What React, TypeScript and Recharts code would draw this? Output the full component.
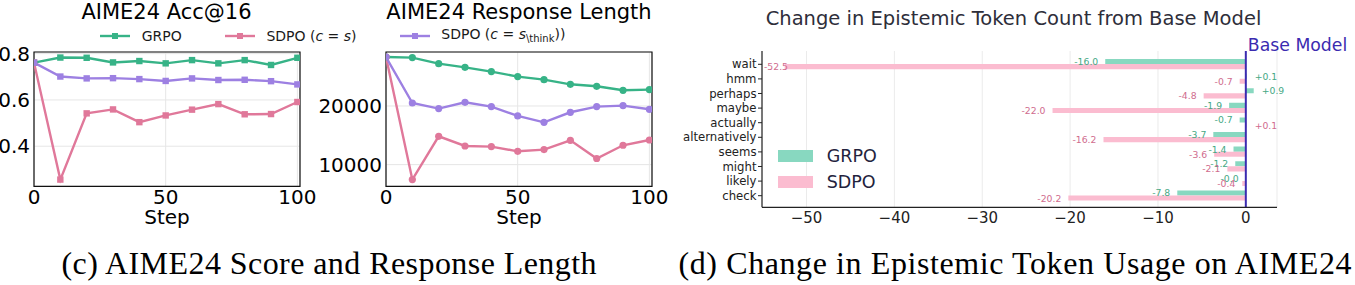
import React from "react";
import {
    LineChart,
    Line,
    XAxis,
    YAxis,
    CartesianGrid,
    BarChart,
    Bar,
    LabelList,
    ReferenceLine,
    ReferenceArea,
} from "recharts";

// ---- data ----
const steps = [0, 10, 20, 30, 40, 50, 60, 70, 80, 90, 100];

const accGrpo = [0.761, 0.783, 0.782, 0.762, 0.768, 0.758, 0.772, 0.758, 0.772, 0.751, 0.782];
const accSdpo = [0.761, 0.256, 0.542, 0.559, 0.504, 0.533, 0.558, 0.582, 0.538, 0.539, 0.591];
const accSdpoThink = [0.761, 0.701, 0.693, 0.694, 0.69, 0.682, 0.693, 0.686, 0.687, 0.681, 0.667];

const lenGrpo = [28360, 28260, 27230, 26600, 25870, 25020, 24500, 23700, 23360, 22680, 22800];
const lenSdpo = [28360, 7440, 14830, 13180, 13070, 12270, 12560, 14150, 11040, 13300, 14200];
const lenSdpoThink = [28360, 20510, 19560, 20630, 19900, 18300, 17220, 18930, 19900, 20070, 19440];

const tokens = ["wait", "hmm", "perhaps", "maybe", "actually", "alternatively", "seems", "might", "likely", "check"];
const tokenGrpo = [-16.0, 0.1, 0.9, -1.9, -0.7, -3.7, -1.4, -1.2, -0.02, -7.8];
const tokenSdpo = [-52.5, -0.7, -4.8, -22.0, 0.1, -16.2, -3.6, -2.1, -0.4, -20.2];

const accTicks = [0.4, 0.6, 0.8];
const lenTicks = [10000, 20000];
const stepTicks = [0, 50, 100];
const tokenTicks = [-50, -40, -30, -20, -10, 0];

// ---- styles ----
const FONT = "'DejaVu Sans', sans-serif";
const SERIF = "'Liberation Serif', serif";
const GREEN = "#37b387";
const PINK = "#e0789a";
const PURPLE = "#9d80e2";
const BAR_GREEN = "#88d8c0";
const BAR_PINK = "#fbbcd0";
const LABEL_GREEN = "#45a884";
const LABEL_PINK = "#d06c8e";
const BASE_BLUE = "#3b2bb0";

const STEP_DOMAIN: [number, number] = [0, 101];
const TOKEN_DOMAIN: [number, number] = [-55.07, 3.55];
const LABEL_FONT = 9.3;

const accData = steps.map((s, i) => ({
    step: s,
    grpo: accGrpo[i],
    sdpo: accSdpo[i],
    think: accSdpoThink[i],
}));
const lenData = steps.map((s, i) => ({
    step: s,
    grpo: lenGrpo[i],
    sdpo: lenSdpo[i],
    think: lenSdpoThink[i],
}));
const tokenData = tokens.map((t, i) => ({
    token: t,
    grpo: tokenGrpo[i],
    sdpo: tokenSdpo[i],
}));

type Rect = { x: number; y: number; w: number; h: number };

const squareDot = (color: string) => (p: any) => (
    <rect key={`sq-${p.index}`} x={p.cx - 3.2} y={p.cy - 3.2} width={6.4} height={6.4} fill={color} />
);
const circleDot = (color: string) => (p: any) => (
    <circle key={`ci-${p.index}`} cx={p.cx} cy={p.cy} r={3.6} fill={color} />
);

type StepPanelProps = {
    data: typeof accData;
    plot: Rect;
    yDomain: [number, number];
    yTicks: number[];
    yWidth: number;
    yFormat: (v: number) => string;
    marker: (color: string) => (p: any) => React.ReactElement;
};

function StepPanel({ data, plot, yDomain, yTicks, yWidth, yFormat, marker }: StepPanelProps) {
    const MT = 20;
    const MR = 30;
    const XH = 50;
    const tick = { fill: "#000", fontSize: 20, fontFamily: FONT };
    const series = [
        { key: "grpo", color: GREEN },
        { key: "sdpo", color: PINK },
        { key: "think", color: PURPLE },
    ];
    return (
        <div style={{ position: "absolute", left: plot.x - yWidth, top: plot.y - MT }}>
            <LineChart
                width={yWidth + plot.w + MR}
                height={MT + plot.h + XH}
                data={data}
                margin={{ top: MT, right: MR, left: 0, bottom: 0 }}
            >
                <CartesianGrid stroke="#e6e6e6" strokeWidth={1} />
                <XAxis
                    dataKey="step"
                    type="number"
                    domain={STEP_DOMAIN}
                    allowDataOverflow
                    ticks={stepTicks}
                    interval={0}
                    height={XH}
                    tickLine={false}
                    axisLine={false}
                    tickSize={3.5}
                    tickMargin={0}
                    tick={tick}
                    label={{
                        value: "Step",
                        position: "insideBottom",
                        offset: 12.5,
                        fill: "#000",
                        fontSize: 20,
                        fontFamily: FONT,
                    }}
                />
                <YAxis
                    type="number"
                    domain={yDomain}
                    allowDataOverflow
                    ticks={yTicks}
                    interval={0}
                    width={yWidth}
                    tickLine={false}
                    axisLine={false}
                    tickSize={4}
                    tickMargin={0}
                    tick={tick}
                    tickFormatter={yFormat}
                />
                <ReferenceArea
                    x1={STEP_DOMAIN[0]}
                    x2={STEP_DOMAIN[1]}
                    y1={yDomain[0]}
                    y2={yDomain[1]}
                    fill="none"
                    stroke="#111"
                    strokeWidth={1.2}
                />
                {series.map((s) => (
                    <Line
                        key={s.key}
                        type="linear"
                        dataKey={s.key}
                        stroke={s.color}
                        strokeWidth={2.4}
                        dot={marker(s.color)}
                        activeDot={false}
                        isAnimationActive={false}
                    />
                ))}
            </LineChart>
        </div>
    );
}

const makeBarLabel = (color: string) => (props: any) => {
    const { x, y, width, height, value } = props;
    const v = Number(value);
    const left = Math.min(x, x + width);
    const right = Math.max(x, x + width);
    const cy = y + height / 2;
    const text = (v >= 0 ? "+" : "") + v.toFixed(1);
    let tx = right + 8;
    let anchor = "start";
    if (v < 0) {
        tx = left - 7;
        anchor = "end";
        if (Math.abs(v) > 1) {
            // keep the label inside the axes when the bar runs to the edge
            const pxPerUnit = Math.abs(width) / Math.abs(v);
            const plotLeft = right + TOKEN_DOMAIN[0] * pxPerUnit;
            const estW = text.length * LABEL_FONT * 0.6;
            if (tx - estW < plotLeft + 2) {
                tx = plotLeft + 2;
                anchor = "start";
            }
        }
    }
    return (
        <text
            x={tx}
            y={cy}
            textAnchor={anchor as any}
            dominantBaseline="central"
            fontSize={LABEL_FONT}
            fontFamily={FONT}
            fill={color}
        >
            {text}
        </text>
    );
};

function TokenPanel() {
    const plot: Rect = { x: 762.3, y: 51, w: 515, h: 156.3 };
    const YW = 100;
    const MT = 30;
    const MR = 100;
    const XH = 40;
    return (
        <div style={{ position: "absolute", left: plot.x - YW, top: plot.y - MT }}>
            <BarChart
                width={YW + plot.w + MR}
                height={MT + plot.h + XH}
                data={tokenData}
                layout="vertical"
                margin={{ top: MT, right: MR, left: 0, bottom: 0 }}
                barGap={0}
                barSize={5.1}
            >
                <CartesianGrid horizontal={false} stroke="#ebebeb" strokeWidth={1} />
                <XAxis
                    type="number"
                    domain={TOKEN_DOMAIN}
                    allowDataOverflow
                    ticks={tokenTicks}
                    interval={0}
                    height={XH}
                    tickLine={false}
                    tickSize={4}
                    tickMargin={1.5}
                    axisLine={{ stroke: "#222", strokeWidth: 1.2 }}
                    tick={{ fill: "#222", fontSize: 15, fontFamily: FONT }}
                    tickFormatter={(v: number) => (v < 0 ? "\u2212" + Math.abs(v) : String(v))}
                />
                <YAxis
                    type="category"
                    dataKey="token"
                    width={YW}
                    interval={0}
                    padding={{ top: 6, bottom: 4.3 }}
                    tickSize={4}
                    tickMargin={1.5}
                    tickLine={{ stroke: "#222", strokeWidth: 1 }}
                    axisLine={{ stroke: "#222", strokeWidth: 1.2 }}
                    tick={{ fill: "#222", fontSize: 11.7, fontFamily: FONT }}
                />
                <Bar dataKey="grpo" fill={BAR_GREEN} isAnimationActive={false}>
                    <LabelList dataKey="grpo" content={makeBarLabel(LABEL_GREEN)} />
                </Bar>
                <Bar dataKey="sdpo" fill={BAR_PINK} isAnimationActive={false}>
                    <LabelList dataKey="sdpo" content={makeBarLabel(LABEL_PINK)} />
                </Bar>
                <ReferenceLine
                    x={0}
                    stroke={BASE_BLUE}
                    strokeWidth={2}
                    label={(p: any) => (
                        <text
                            x={p.viewBox.x + 2}
                            y={p.viewBox.y + 0.5}
                            fontSize={17.3}
                            fontFamily={FONT}
                            fill={BASE_BLUE}
                        >
                            Base Model
                        </text>
                    )}
                />
            </BarChart>
        </div>
    );
}

function LineSample({ color }: { color: string }) {
    return (
        <svg width={30} height={10} style={{ display: "block" }}>
            <line x1={0} y1={5} x2={30} y2={5} stroke={color} strokeWidth={2.4} />
            <rect x={12} y={2} width={6} height={6} fill={color} />
        </svg>
    );
}

function StepLegend() {
    const items = [
        { color: GREEN, label: <>GRPO</> },
        {
            color: PINK,
            label: (
                <>
                    SDPO (<i>c</i> = <i>s</i>)
                </>
            ),
        },
        {
            color: PURPLE,
            label: (
                <>
                    SDPO (<i>c</i> = <i>s</i>
                    <sub style={{ fontSize: 10, verticalAlign: "-3px" }}>\think</sub>))
                </>
            ),
        },
    ];
    return (
        <div
            style={{
                position: "absolute",
                left: 100,
                top: 28,
                height: 16,
                display: "flex",
                alignItems: "center",
                gap: 43,
                fontFamily: FONT,
                fontSize: 14,
                color: "#1a1a1a",
                whiteSpace: "nowrap",
            }}
        >
            {items.map((it, i) => (
                <div key={i} style={{ display: "flex", alignItems: "center", gap: 11.7 }}>
                    <LineSample color={it.color} />
                    <span style={{ lineHeight: "16px" }}>{it.label}</span>
                </div>
            ))}
        </div>
    );
}

function TokenLegend() {
    const items = [
        { color: BAR_GREEN, label: "GRPO" },
        { color: BAR_PINK, label: "SDPO" },
    ];
    return (
        <div style={{ position: "absolute", left: 777.7, top: 147, fontFamily: FONT }}>
            {items.map((it) => (
                <div
                    key={it.label}
                    style={{ display: "flex", alignItems: "center", height: 18, marginBottom: 8 }}
                >
                    <div style={{ width: 35, height: 11.7, background: it.color }} />
                    <span style={{ marginLeft: 14, fontSize: 17.5, color: "#23233d", lineHeight: "18px" }}>
                        {it.label}
                    </span>
                </div>
            ))}
        </div>
    );
}

export default function App() {
    return (
        <div
            style={{
                position: "absolute",
                left: 0,
                top: 0,
                width: 1355,
                height: 285,
                overflow: "hidden",
                background: "#fff",
            }}
        >
            <StepPanel
                data={accData}
                plot={{ x: 34.3, y: 51.7, w: 266, h: 134.3 }}
                yDomain={[0.227, 0.807]}
                yTicks={accTicks}
                yWidth={40}
                yFormat={(v) => v.toFixed(1)}
                marker={squareDot}
            />
            <StepPanel
                data={lenData}
                plot={{ x: 386.3, y: 51.7, w: 266, h: 134.3 }}
                yDomain={[6300, 29215]}
                yTicks={lenTicks}
                yWidth={70}
                yFormat={(v) => String(v)}
                marker={circleDot}
            />
            <TokenPanel />
            <StepLegend />
            <TokenLegend />
            <svg
                width={1355}
                height={285}
                style={{ position: "absolute", left: 0, top: 0, pointerEvents: "none" }}
            >
                <text x={166.5} y={19} textAnchor="middle" fontSize={21} fontFamily={FONT} fill="#000">
                    AIME24 Acc@16
                </text>
                <text x={519} y={19} textAnchor="middle" fontSize={21} fontFamily={FONT} fill="#000">
                    AIME24 Response Length
                </text>
                <text x={1013.5} y={25} textAnchor="middle" fontSize={19.5} fontFamily={FONT} fill="#2e2e3a">
                    Change in Epistemic Token Count from Base Model
                </text>
                <text
                    x={329}
                    y={274}
                    textAnchor="middle"
                    fontSize={32}
                    fontFamily={SERIF}
                    fill="#000"
                    textLength={535}
                    lengthAdjust="spacing"
                >
                    (c) AIME24 Score and Response Length
                </text>
                <text
                    x={1015}
                    y={274}
                    textAnchor="middle"
                    fontSize={32}
                    fontFamily={SERIF}
                    fill="#000"
                    textLength={673}
                    lengthAdjust="spacing"
                >
                    (d) Change in Epistemic Token Usage on AIME24
                </text>
            </svg>
        </div>
    );
}
